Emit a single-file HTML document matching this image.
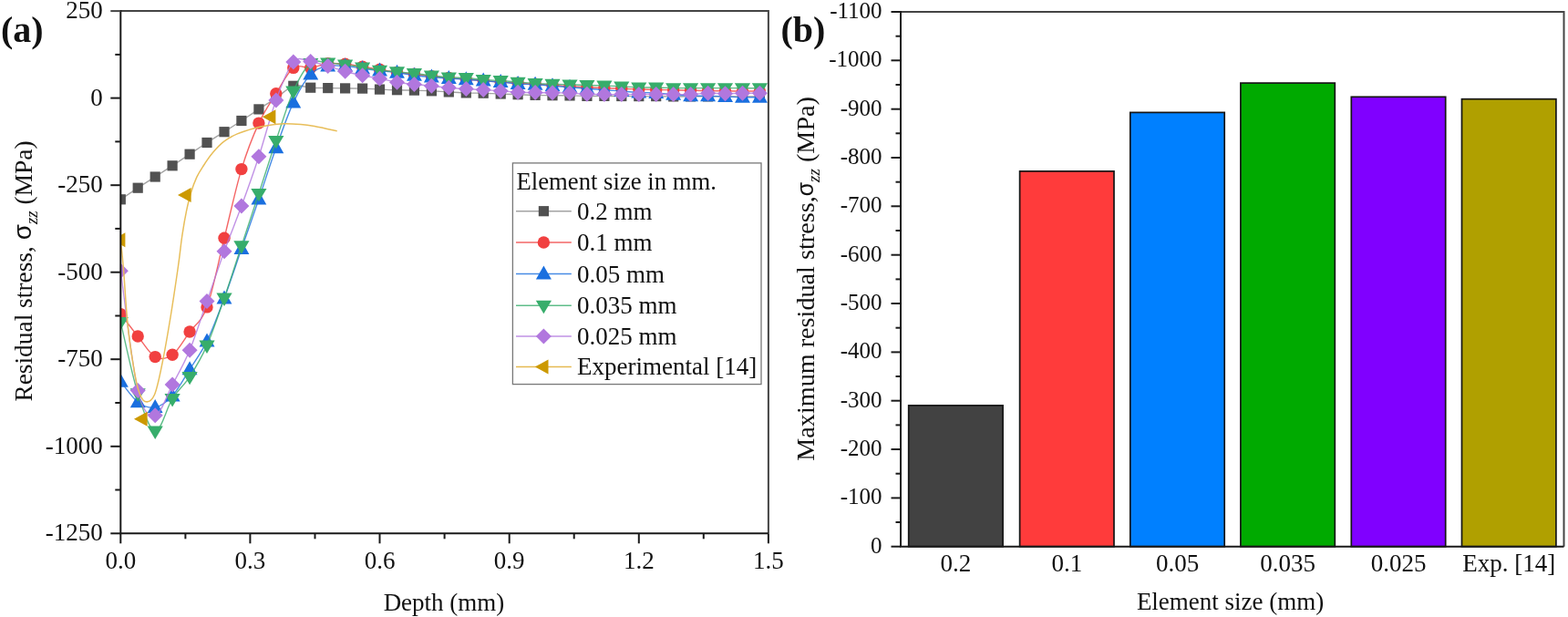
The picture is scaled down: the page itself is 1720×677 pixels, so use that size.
<!DOCTYPE html><html><head><meta charset="utf-8"><title>Residual stress figure</title><style>html,body{margin:0;padding:0;background:#fff;}svg{display:block;}text{font-family:'Liberation Serif','Times New Roman',serif;fill:#111;}</style></head><body>
<svg width="1720" height="677" viewBox="0 0 1720 677">
<rect width="1720" height="677" fill="#fff"/>
<defs><clipPath id="ca"><rect x="132.3" y="12.1" width="710.6" height="573.2"/></clipPath></defs>
<g clip-path="url(#ca)">
<path d="M132.3,218.8 C135.5,216.7 144.9,210.4 151.2,206.2 C157.6,202.1 163.9,198.1 170.2,194.0 C176.5,189.9 182.8,185.9 189.1,181.8 C195.5,177.6 201.8,173.4 208.1,169.2 C214.4,165.0 220.7,160.6 227.0,156.5 C233.4,152.5 239.7,148.7 246.0,144.7 C252.3,140.7 258.6,136.6 264.9,132.5 C271.3,128.3 277.6,124.0 283.9,119.9 C290.2,115.7 296.5,111.9 302.8,107.6 C309.2,103.4 315.5,96.2 321.8,94.3 C328.1,92.3 334.4,95.8 340.7,96.2 C347.1,96.6 353.4,96.4 359.7,96.6 C366.0,96.7 372.3,96.8 378.6,96.9 C385.0,97.0 391.3,96.9 397.6,97.1 C403.9,97.3 410.2,97.8 416.5,98.1 C422.9,98.3 429.2,98.6 435.5,98.7 C441.8,98.9 448.1,99.0 454.4,99.1 C460.8,99.3 467.1,99.5 473.4,99.8 C479.7,100.1 486.0,100.6 492.3,100.9 C498.7,101.3 505.0,101.7 511.3,101.9 C517.6,102.2 523.9,102.1 530.2,102.2 C536.6,102.4 542.9,102.8 549.2,103.0 C555.5,103.3 561.8,103.5 568.1,103.7 C574.5,104.0 580.8,104.3 587.1,104.4 C593.4,104.6 599.7,104.6 606.0,104.7 C612.3,104.8 618.7,104.8 625.0,104.9 C631.3,105.0 637.6,105.3 643.9,105.4 C650.2,105.5 656.6,105.4 662.9,105.4 C669.2,105.4 675.5,105.5 681.8,105.5 C688.1,105.6 694.5,105.6 700.8,105.6 C707.1,105.7 713.4,105.6 719.7,105.6 C726.0,105.7 732.4,105.9 738.7,105.9 C745.0,106.0 751.3,105.9 757.6,105.9 C763.9,105.9 770.3,105.9 776.6,105.9 C782.9,105.9 789.2,105.9 795.5,105.9 C801.8,105.9 808.2,105.9 814.5,105.9 C820.8,105.9 830.3,105.9 833.4,105.9" fill="none" stroke="#8c8c8c" stroke-width="1.4" stroke-opacity="0.8"/>
<rect x="126.7" y="213.2" width="11.2" height="11.2" fill="#515151"/>
<rect x="145.6" y="200.6" width="11.2" height="11.2" fill="#515151"/>
<rect x="164.6" y="188.4" width="11.2" height="11.2" fill="#515151"/>
<rect x="183.5" y="176.2" width="11.2" height="11.2" fill="#515151"/>
<rect x="202.5" y="163.6" width="11.2" height="11.2" fill="#515151"/>
<rect x="221.4" y="150.9" width="11.2" height="11.2" fill="#515151"/>
<rect x="240.4" y="139.1" width="11.2" height="11.2" fill="#515151"/>
<rect x="259.3" y="126.9" width="11.2" height="11.2" fill="#515151"/>
<rect x="278.3" y="114.3" width="11.2" height="11.2" fill="#515151"/>
<rect x="297.2" y="102.0" width="11.2" height="11.2" fill="#515151"/>
<rect x="316.2" y="88.7" width="11.2" height="11.2" fill="#515151"/>
<rect x="335.1" y="90.6" width="11.2" height="11.2" fill="#515151"/>
<rect x="354.1" y="91.0" width="11.2" height="11.2" fill="#515151"/>
<rect x="373.0" y="91.3" width="11.2" height="11.2" fill="#515151"/>
<rect x="392.0" y="91.5" width="11.2" height="11.2" fill="#515151"/>
<rect x="410.9" y="92.5" width="11.2" height="11.2" fill="#515151"/>
<rect x="429.9" y="93.1" width="11.2" height="11.2" fill="#515151"/>
<rect x="448.8" y="93.5" width="11.2" height="11.2" fill="#515151"/>
<rect x="467.8" y="94.2" width="11.2" height="11.2" fill="#515151"/>
<rect x="486.7" y="95.3" width="11.2" height="11.2" fill="#515151"/>
<rect x="505.7" y="96.3" width="11.2" height="11.2" fill="#515151"/>
<rect x="524.6" y="96.6" width="11.2" height="11.2" fill="#515151"/>
<rect x="543.6" y="97.4" width="11.2" height="11.2" fill="#515151"/>
<rect x="562.5" y="98.1" width="11.2" height="11.2" fill="#515151"/>
<rect x="581.5" y="98.8" width="11.2" height="11.2" fill="#515151"/>
<rect x="600.4" y="99.1" width="11.2" height="11.2" fill="#515151"/>
<rect x="619.4" y="99.3" width="11.2" height="11.2" fill="#515151"/>
<rect x="638.3" y="99.8" width="11.2" height="11.2" fill="#515151"/>
<rect x="657.3" y="99.8" width="11.2" height="11.2" fill="#515151"/>
<rect x="676.2" y="99.9" width="11.2" height="11.2" fill="#515151"/>
<rect x="695.2" y="100.0" width="11.2" height="11.2" fill="#515151"/>
<rect x="714.1" y="100.0" width="11.2" height="11.2" fill="#515151"/>
<rect x="733.1" y="100.3" width="11.2" height="11.2" fill="#515151"/>
<rect x="752.0" y="100.3" width="11.2" height="11.2" fill="#515151"/>
<rect x="771.0" y="100.3" width="11.2" height="11.2" fill="#515151"/>
<rect x="789.9" y="100.3" width="11.2" height="11.2" fill="#515151"/>
<rect x="808.9" y="100.3" width="11.2" height="11.2" fill="#515151"/>
<rect x="827.8" y="100.3" width="11.2" height="11.2" fill="#515151"/>
<path d="M132.3,344.6 C135.5,348.6 144.9,361.2 151.2,369.0 C157.6,376.8 163.9,388.2 170.2,391.6 C176.5,394.9 182.8,393.9 189.1,389.3 C195.5,384.7 201.8,372.8 208.1,364.0 C214.4,355.3 220.7,354.0 227.0,336.9 C233.4,319.8 239.7,286.5 246.0,261.3 C252.3,236.0 258.6,206.6 264.9,185.6 C271.3,164.6 277.6,149.0 283.9,135.1 C290.2,121.3 296.5,112.8 302.8,102.7 C309.2,92.5 315.5,79.1 321.8,74.4 C328.1,69.7 334.4,75.2 340.7,74.4 C347.1,73.6 353.4,70.5 359.7,69.8 C366.0,69.1 372.3,69.8 378.6,70.3 C385.0,70.9 391.3,72.2 397.6,73.2 C403.9,74.2 410.2,75.3 416.5,76.3 C422.9,77.3 429.2,78.5 435.5,79.4 C441.8,80.2 448.1,80.6 454.4,81.3 C460.8,82.0 467.1,82.9 473.4,83.6 C479.7,84.3 486.0,84.9 492.3,85.5 C498.7,86.0 505.0,86.5 511.3,87.0 C517.6,87.5 523.9,88.0 530.2,88.5 C536.6,89.0 542.9,89.6 549.2,90.1 C555.5,90.5 561.8,90.8 568.1,91.2 C574.5,91.6 580.8,92.0 587.1,92.3 C593.4,92.7 599.7,93.1 606.0,93.5 C612.3,93.9 618.7,94.3 625.0,94.6 C631.3,95.0 637.6,95.5 643.9,95.8 C650.2,96.1 656.6,96.3 662.9,96.6 C669.2,96.8 675.5,97.1 681.8,97.3 C688.1,97.5 694.5,97.7 700.8,97.9 C707.1,98.1 713.4,98.3 719.7,98.5 C726.0,98.6 732.4,98.7 738.7,98.8 C745.0,99.0 751.3,99.1 757.6,99.2 C763.9,99.4 770.3,99.5 776.6,99.6 C782.9,99.7 789.2,99.7 795.5,99.8 C801.8,99.9 808.2,100.0 814.5,100.0 C820.8,100.0 830.3,100.0 833.4,100.0" fill="none" stroke="#F14040" stroke-width="1.4" stroke-opacity="0.8"/>
<circle cx="132.3" cy="344.6" r="6.7" fill="#F14040"/>
<circle cx="151.2" cy="369.0" r="6.7" fill="#F14040"/>
<circle cx="170.2" cy="391.6" r="6.7" fill="#F14040"/>
<circle cx="189.1" cy="389.3" r="6.7" fill="#F14040"/>
<circle cx="208.1" cy="364.0" r="6.7" fill="#F14040"/>
<circle cx="227.0" cy="336.9" r="6.7" fill="#F14040"/>
<circle cx="246.0" cy="261.3" r="6.7" fill="#F14040"/>
<circle cx="264.9" cy="185.6" r="6.7" fill="#F14040"/>
<circle cx="283.9" cy="135.1" r="6.7" fill="#F14040"/>
<circle cx="302.8" cy="102.7" r="6.7" fill="#F14040"/>
<circle cx="321.8" cy="74.4" r="6.7" fill="#F14040"/>
<circle cx="340.7" cy="74.4" r="6.7" fill="#F14040"/>
<circle cx="359.7" cy="69.8" r="6.7" fill="#F14040"/>
<circle cx="378.6" cy="70.3" r="6.7" fill="#F14040"/>
<circle cx="397.6" cy="73.2" r="6.7" fill="#F14040"/>
<circle cx="416.5" cy="76.3" r="6.7" fill="#F14040"/>
<circle cx="435.5" cy="79.4" r="6.7" fill="#F14040"/>
<circle cx="454.4" cy="81.3" r="6.7" fill="#F14040"/>
<circle cx="473.4" cy="83.6" r="6.7" fill="#F14040"/>
<circle cx="492.3" cy="85.5" r="6.7" fill="#F14040"/>
<circle cx="511.3" cy="87.0" r="6.7" fill="#F14040"/>
<circle cx="530.2" cy="88.5" r="6.7" fill="#F14040"/>
<circle cx="549.2" cy="90.1" r="6.7" fill="#F14040"/>
<circle cx="568.1" cy="91.2" r="6.7" fill="#F14040"/>
<circle cx="587.1" cy="92.3" r="6.7" fill="#F14040"/>
<circle cx="606.0" cy="93.5" r="6.7" fill="#F14040"/>
<circle cx="625.0" cy="94.6" r="6.7" fill="#F14040"/>
<circle cx="643.9" cy="95.8" r="6.7" fill="#F14040"/>
<circle cx="662.9" cy="96.6" r="6.7" fill="#F14040"/>
<circle cx="681.8" cy="97.3" r="6.7" fill="#F14040"/>
<circle cx="700.8" cy="97.9" r="6.7" fill="#F14040"/>
<circle cx="719.7" cy="98.5" r="6.7" fill="#F14040"/>
<circle cx="738.7" cy="98.8" r="6.7" fill="#F14040"/>
<circle cx="757.6" cy="99.2" r="6.7" fill="#F14040"/>
<circle cx="776.6" cy="99.6" r="6.7" fill="#F14040"/>
<circle cx="795.5" cy="99.8" r="6.7" fill="#F14040"/>
<circle cx="814.5" cy="100.0" r="6.7" fill="#F14040"/>
<circle cx="833.4" cy="100.0" r="6.7" fill="#F14040"/>
<path d="M132.3,418.7 C135.5,422.4 144.9,436.5 151.2,441.2 C157.6,445.9 163.9,448.1 170.2,447.0 C176.5,445.8 182.8,441.3 189.1,434.4 C195.5,427.4 201.8,415.3 208.1,405.3 C214.4,395.3 220.7,387.4 227.0,374.4 C233.4,361.4 239.7,344.2 246.0,327.4 C252.3,310.5 258.6,291.2 264.9,273.1 C271.3,254.9 277.6,236.9 283.9,218.5 C290.2,200.0 296.5,179.9 302.8,162.3 C309.2,144.6 315.5,126.0 321.8,112.6 C328.1,99.2 334.4,88.3 340.7,81.6 C347.1,75.0 353.4,74.0 359.7,72.5 C366.0,71.0 372.3,72.2 378.6,72.6 C385.0,73.1 391.3,74.3 397.6,75.2 C403.9,76.0 410.2,76.9 416.5,77.6 C422.9,78.4 429.2,78.9 435.5,79.7 C441.8,80.6 448.1,81.9 454.4,82.7 C460.8,83.5 467.1,83.9 473.4,84.5 C479.7,85.1 486.0,85.7 492.3,86.1 C498.7,86.6 505.0,86.7 511.3,87.2 C517.6,87.6 523.9,88.0 530.2,88.5 C536.6,89.0 542.9,89.5 549.2,90.1 C555.5,90.6 561.8,91.5 568.1,92.0 C574.5,92.4 580.8,92.3 587.1,92.7 C593.4,93.1 599.7,93.7 606.0,94.3 C612.3,94.8 618.7,95.3 625.0,95.8 C631.3,96.3 637.6,96.8 643.9,97.3 C650.2,97.8 656.6,98.4 662.9,98.8 C669.2,99.3 675.5,99.5 681.8,100.0 C688.1,100.4 694.5,101.2 700.8,101.5 C707.1,101.8 713.4,101.5 719.7,101.9 C726.0,102.3 732.4,103.2 738.7,103.7 C745.0,104.3 751.3,105.0 757.6,105.2 C763.9,105.5 770.3,105.1 776.6,105.2 C782.9,105.3 789.2,105.7 795.5,105.9 C801.8,106.2 808.2,106.6 814.5,106.7 C820.8,106.8 830.3,106.7 833.4,106.7" fill="none" stroke="#1A6FDF" stroke-width="1.4" stroke-opacity="0.8"/>
<polygon points="132.3,409.7 140.8,424.7 123.9,424.7" fill="#1A6FDF"/>
<polygon points="151.2,432.2 159.7,447.2 142.8,447.2" fill="#1A6FDF"/>
<polygon points="170.2,438.0 178.6,453.0 161.7,453.0" fill="#1A6FDF"/>
<polygon points="189.1,425.4 197.6,440.4 180.7,440.4" fill="#1A6FDF"/>
<polygon points="208.1,396.3 216.5,411.3 199.6,411.3" fill="#1A6FDF"/>
<polygon points="227.0,365.4 235.5,380.4 218.6,380.4" fill="#1A6FDF"/>
<polygon points="246.0,318.4 254.4,333.4 237.5,333.4" fill="#1A6FDF"/>
<polygon points="264.9,264.1 273.4,279.1 256.5,279.1" fill="#1A6FDF"/>
<polygon points="283.9,209.5 292.3,224.5 275.4,224.5" fill="#1A6FDF"/>
<polygon points="302.8,153.3 311.3,168.3 294.4,168.3" fill="#1A6FDF"/>
<polygon points="321.8,103.6 330.2,118.6 313.3,118.6" fill="#1A6FDF"/>
<polygon points="340.7,72.6 349.2,87.6 332.3,87.6" fill="#1A6FDF"/>
<polygon points="359.7,63.5 368.1,78.5 351.2,78.5" fill="#1A6FDF"/>
<polygon points="378.6,63.6 387.1,78.6 370.2,78.6" fill="#1A6FDF"/>
<polygon points="397.6,66.2 406.0,81.2 389.1,81.2" fill="#1A6FDF"/>
<polygon points="416.5,68.6 425.0,83.6 408.1,83.6" fill="#1A6FDF"/>
<polygon points="435.5,70.7 443.9,85.7 427.0,85.7" fill="#1A6FDF"/>
<polygon points="454.4,73.7 462.9,88.7 446.0,88.7" fill="#1A6FDF"/>
<polygon points="473.4,75.5 481.8,90.5 464.9,90.5" fill="#1A6FDF"/>
<polygon points="492.3,77.1 500.8,92.1 483.9,92.1" fill="#1A6FDF"/>
<polygon points="511.3,78.2 519.7,93.2 502.8,93.2" fill="#1A6FDF"/>
<polygon points="530.2,79.5 538.7,94.5 521.8,94.5" fill="#1A6FDF"/>
<polygon points="549.2,81.1 557.6,96.1 540.7,96.1" fill="#1A6FDF"/>
<polygon points="568.1,83.0 576.6,98.0 559.7,98.0" fill="#1A6FDF"/>
<polygon points="587.1,83.7 595.5,98.7 578.6,98.7" fill="#1A6FDF"/>
<polygon points="606.0,85.3 614.5,100.3 597.6,100.3" fill="#1A6FDF"/>
<polygon points="625.0,86.8 633.4,101.8 616.5,101.8" fill="#1A6FDF"/>
<polygon points="643.9,88.3 652.4,103.3 635.5,103.3" fill="#1A6FDF"/>
<polygon points="662.9,89.8 671.3,104.8 654.4,104.8" fill="#1A6FDF"/>
<polygon points="681.8,91.0 690.3,106.0 673.4,106.0" fill="#1A6FDF"/>
<polygon points="700.8,92.5 709.2,107.5 692.3,107.5" fill="#1A6FDF"/>
<polygon points="719.7,92.9 728.2,107.9 711.3,107.9" fill="#1A6FDF"/>
<polygon points="738.7,94.7 747.1,109.7 730.2,109.7" fill="#1A6FDF"/>
<polygon points="757.6,96.2 766.1,111.2 749.2,111.2" fill="#1A6FDF"/>
<polygon points="776.6,96.2 785.0,111.2 768.1,111.2" fill="#1A6FDF"/>
<polygon points="795.5,96.9 804.0,111.9 787.1,111.9" fill="#1A6FDF"/>
<polygon points="814.5,97.7 822.9,112.7 806.0,112.7" fill="#1A6FDF"/>
<polygon points="833.4,97.7 841.9,112.7 825.0,112.7" fill="#1A6FDF"/>
<path d="M132.3,353.3 C135.5,366.4 144.9,411.7 151.2,431.7 C157.6,451.6 163.9,472.0 170.2,473.0 C176.5,473.9 182.8,447.3 189.1,437.4 C195.5,427.5 201.8,423.1 208.1,413.3 C214.4,403.6 220.7,393.3 227.0,378.9 C233.4,364.6 239.7,345.2 246.0,327.0 C252.3,308.8 258.6,288.8 264.9,269.7 C271.3,250.6 277.6,231.6 283.9,212.3 C290.2,193.1 296.5,173.0 302.8,154.3 C309.2,135.5 315.5,114.1 321.8,100.0 C328.1,85.9 334.4,74.6 340.7,69.4 C347.1,64.3 353.4,68.8 359.7,69.0 C366.0,69.3 372.3,70.1 378.6,70.9 C385.0,71.8 391.3,73.0 397.6,74.0 C403.9,75.0 410.2,76.3 416.5,77.1 C422.9,77.9 429.2,78.2 435.5,78.7 C441.8,79.3 448.1,79.9 454.4,80.5 C460.8,81.2 467.1,82.1 473.4,82.8 C479.7,83.5 486.0,84.4 492.3,84.8 C498.7,85.3 505.0,85.1 511.3,85.5 C517.6,86.0 523.9,86.9 530.2,87.4 C536.6,87.9 542.9,88.1 549.2,88.5 C555.5,89.0 561.8,89.6 568.1,90.1 C574.5,90.5 580.8,91.1 587.1,91.4 C593.4,91.8 599.7,92.0 606.0,92.2 C612.3,92.5 618.7,92.6 625.0,92.8 C631.3,93.1 637.6,93.4 643.9,93.5 C650.2,93.7 656.6,93.7 662.9,93.9 C669.2,94.1 675.5,94.5 681.8,94.8 C688.1,95.2 694.5,95.7 700.8,95.9 C707.1,96.1 713.4,95.9 719.7,96.0 C726.0,96.1 732.4,96.4 738.7,96.6 C745.0,96.7 751.3,96.6 757.6,96.6 C763.9,96.6 770.3,96.6 776.6,96.6 C782.9,96.6 789.2,96.6 795.5,96.6 C801.8,96.6 808.2,96.7 814.5,96.7 C820.8,96.8 830.3,96.7 833.4,96.7" fill="none" stroke="#37AD6B" stroke-width="1.4" stroke-opacity="0.8"/>
<polygon points="132.3,362.3 140.9,347.9 123.7,347.9" fill="#37AD6B"/>
<polygon points="151.2,440.7 159.8,426.3 142.6,426.3" fill="#37AD6B"/>
<polygon points="170.2,482.0 178.8,467.6 161.6,467.6" fill="#37AD6B"/>
<polygon points="189.1,446.4 197.7,432.0 180.5,432.0" fill="#37AD6B"/>
<polygon points="208.1,422.3 216.7,407.9 199.5,407.9" fill="#37AD6B"/>
<polygon points="227.0,387.9 235.6,373.5 218.4,373.5" fill="#37AD6B"/>
<polygon points="246.0,336.0 254.6,321.6 237.4,321.6" fill="#37AD6B"/>
<polygon points="264.9,278.7 273.5,264.3 256.3,264.3" fill="#37AD6B"/>
<polygon points="283.9,221.3 292.5,206.9 275.3,206.9" fill="#37AD6B"/>
<polygon points="302.8,163.3 311.4,148.9 294.2,148.9" fill="#37AD6B"/>
<polygon points="321.8,109.0 330.4,94.6 313.2,94.6" fill="#37AD6B"/>
<polygon points="340.7,78.4 349.3,64.0 332.1,64.0" fill="#37AD6B"/>
<polygon points="359.7,78.0 368.3,63.6 351.1,63.6" fill="#37AD6B"/>
<polygon points="378.6,79.9 387.2,65.5 370.0,65.5" fill="#37AD6B"/>
<polygon points="397.6,83.0 406.2,68.6 389.0,68.6" fill="#37AD6B"/>
<polygon points="416.5,86.1 425.1,71.7 407.9,71.7" fill="#37AD6B"/>
<polygon points="435.5,87.7 444.1,73.3 426.9,73.3" fill="#37AD6B"/>
<polygon points="454.4,89.5 463.0,75.1 445.8,75.1" fill="#37AD6B"/>
<polygon points="473.4,91.8 482.0,77.4 464.8,77.4" fill="#37AD6B"/>
<polygon points="492.3,93.8 500.9,79.4 483.7,79.4" fill="#37AD6B"/>
<polygon points="511.3,94.5 519.9,80.1 502.7,80.1" fill="#37AD6B"/>
<polygon points="530.2,96.4 538.8,82.0 521.6,82.0" fill="#37AD6B"/>
<polygon points="549.2,97.5 557.8,83.1 540.6,83.1" fill="#37AD6B"/>
<polygon points="568.1,99.1 576.7,84.7 559.5,84.7" fill="#37AD6B"/>
<polygon points="587.1,100.4 595.7,86.0 578.5,86.0" fill="#37AD6B"/>
<polygon points="606.0,101.2 614.6,86.8 597.4,86.8" fill="#37AD6B"/>
<polygon points="625.0,101.8 633.6,87.4 616.4,87.4" fill="#37AD6B"/>
<polygon points="643.9,102.5 652.5,88.1 635.3,88.1" fill="#37AD6B"/>
<polygon points="662.9,102.9 671.5,88.5 654.3,88.5" fill="#37AD6B"/>
<polygon points="681.8,103.8 690.4,89.4 673.2,89.4" fill="#37AD6B"/>
<polygon points="700.8,104.9 709.4,90.5 692.2,90.5" fill="#37AD6B"/>
<polygon points="719.7,105.0 728.3,90.6 711.1,90.6" fill="#37AD6B"/>
<polygon points="738.7,105.6 747.3,91.2 730.1,91.2" fill="#37AD6B"/>
<polygon points="757.6,105.6 766.2,91.2 749.0,91.2" fill="#37AD6B"/>
<polygon points="776.6,105.6 785.2,91.2 768.0,91.2" fill="#37AD6B"/>
<polygon points="795.5,105.6 804.1,91.2 786.9,91.2" fill="#37AD6B"/>
<polygon points="814.5,105.7 823.1,91.3 805.9,91.3" fill="#37AD6B"/>
<polygon points="833.4,105.7 842.0,91.3 824.8,91.3" fill="#37AD6B"/>
<path d="M132.3,297.2 C135.5,319.1 144.9,402.2 151.2,428.6 C157.6,455.1 163.9,456.8 170.2,455.8 C176.5,454.7 182.8,434.0 189.1,422.1 C195.5,410.2 201.8,399.6 208.1,384.3 C214.4,369.0 220.7,348.5 227.0,330.4 C233.4,312.3 239.7,293.2 246.0,275.8 C252.3,258.4 258.6,243.4 264.9,226.1 C271.3,208.8 277.6,191.2 283.9,171.8 C290.2,152.5 296.5,127.2 302.8,109.9 C309.2,92.6 315.5,75.0 321.8,67.9 C328.1,60.8 334.4,66.7 340.7,67.5 C347.1,68.3 353.4,70.7 359.7,72.5 C366.0,74.3 372.3,76.5 378.6,78.2 C385.0,79.9 391.3,81.5 397.6,82.8 C403.9,84.1 410.2,85.0 416.5,86.2 C422.9,87.5 429.2,89.3 435.5,90.3 C441.8,91.4 448.1,91.9 454.4,92.5 C460.8,93.2 467.1,93.7 473.4,94.3 C479.7,95.0 486.0,95.7 492.3,96.2 C498.7,96.8 505.0,97.2 511.3,97.5 C517.6,97.9 523.9,98.3 530.2,98.6 C536.6,99.0 542.9,99.3 549.2,99.7 C555.5,100.2 561.8,100.9 568.1,101.3 C574.5,101.6 580.8,101.5 587.1,101.6 C593.4,101.7 599.7,101.7 606.0,101.8 C612.3,101.9 618.7,101.9 625.0,102.1 C631.3,102.4 637.6,103.0 643.9,103.2 C650.2,103.5 656.6,103.6 662.9,103.6 C669.2,103.7 675.5,103.7 681.8,103.6 C688.1,103.6 694.5,103.5 700.8,103.4 C707.1,103.4 713.4,103.4 719.7,103.4 C726.0,103.5 732.4,103.6 738.7,103.6 C745.0,103.6 751.3,103.6 757.6,103.4 C763.9,103.2 770.3,102.4 776.6,102.3 C782.9,102.2 789.2,102.7 795.5,102.7 C801.8,102.7 808.2,102.4 814.5,102.3 C820.8,102.3 830.3,102.3 833.4,102.3" fill="none" stroke="#B177DE" stroke-width="1.4" stroke-opacity="0.8"/>
<polygon points="132.3,288.7 140.8,297.2 132.3,305.7 123.8,297.2" fill="#B177DE"/>
<polygon points="151.2,420.1 159.7,428.6 151.2,437.1 142.7,428.6" fill="#B177DE"/>
<polygon points="170.2,447.3 178.7,455.8 170.2,464.3 161.7,455.8" fill="#B177DE"/>
<polygon points="189.1,413.6 197.6,422.1 189.1,430.6 180.6,422.1" fill="#B177DE"/>
<polygon points="208.1,375.8 216.6,384.3 208.1,392.8 199.6,384.3" fill="#B177DE"/>
<polygon points="227.0,321.9 235.5,330.4 227.0,338.9 218.5,330.4" fill="#B177DE"/>
<polygon points="246.0,267.3 254.5,275.8 246.0,284.3 237.5,275.8" fill="#B177DE"/>
<polygon points="264.9,217.6 273.4,226.1 264.9,234.6 256.4,226.1" fill="#B177DE"/>
<polygon points="283.9,163.3 292.4,171.8 283.9,180.3 275.4,171.8" fill="#B177DE"/>
<polygon points="302.8,101.4 311.3,109.9 302.8,118.4 294.3,109.9" fill="#B177DE"/>
<polygon points="321.8,59.4 330.3,67.9 321.8,76.4 313.3,67.9" fill="#B177DE"/>
<polygon points="340.7,59.0 349.2,67.5 340.7,76.0 332.2,67.5" fill="#B177DE"/>
<polygon points="359.7,64.0 368.2,72.5 359.7,81.0 351.2,72.5" fill="#B177DE"/>
<polygon points="378.6,69.7 387.1,78.2 378.6,86.7 370.1,78.2" fill="#B177DE"/>
<polygon points="397.6,74.3 406.1,82.8 397.6,91.3 389.1,82.8" fill="#B177DE"/>
<polygon points="416.5,77.7 425.0,86.2 416.5,94.7 408.0,86.2" fill="#B177DE"/>
<polygon points="435.5,81.8 444.0,90.3 435.5,98.8 427.0,90.3" fill="#B177DE"/>
<polygon points="454.4,84.0 462.9,92.5 454.4,101.0 445.9,92.5" fill="#B177DE"/>
<polygon points="473.4,85.8 481.9,94.3 473.4,102.8 464.9,94.3" fill="#B177DE"/>
<polygon points="492.3,87.7 500.8,96.2 492.3,104.7 483.8,96.2" fill="#B177DE"/>
<polygon points="511.3,89.0 519.8,97.5 511.3,106.0 502.8,97.5" fill="#B177DE"/>
<polygon points="530.2,90.1 538.7,98.6 530.2,107.1 521.7,98.6" fill="#B177DE"/>
<polygon points="549.2,91.2 557.7,99.7 549.2,108.2 540.7,99.7" fill="#B177DE"/>
<polygon points="568.1,92.8 576.6,101.3 568.1,109.8 559.6,101.3" fill="#B177DE"/>
<polygon points="587.1,93.1 595.6,101.6 587.1,110.1 578.6,101.6" fill="#B177DE"/>
<polygon points="606.0,93.3 614.5,101.8 606.0,110.3 597.5,101.8" fill="#B177DE"/>
<polygon points="625.0,93.6 633.5,102.1 625.0,110.6 616.5,102.1" fill="#B177DE"/>
<polygon points="643.9,94.7 652.4,103.2 643.9,111.7 635.4,103.2" fill="#B177DE"/>
<polygon points="662.9,95.1 671.4,103.6 662.9,112.1 654.4,103.6" fill="#B177DE"/>
<polygon points="681.8,95.1 690.3,103.6 681.8,112.1 673.3,103.6" fill="#B177DE"/>
<polygon points="700.8,94.9 709.3,103.4 700.8,111.9 692.3,103.4" fill="#B177DE"/>
<polygon points="719.7,94.9 728.2,103.4 719.7,111.9 711.2,103.4" fill="#B177DE"/>
<polygon points="738.7,95.1 747.2,103.6 738.7,112.1 730.2,103.6" fill="#B177DE"/>
<polygon points="757.6,94.9 766.1,103.4 757.6,111.9 749.1,103.4" fill="#B177DE"/>
<polygon points="776.6,93.8 785.1,102.3 776.6,110.8 768.1,102.3" fill="#B177DE"/>
<polygon points="795.5,94.2 804.0,102.7 795.5,111.2 787.0,102.7" fill="#B177DE"/>
<polygon points="814.5,93.8 823.0,102.3 814.5,110.8 806.0,102.3" fill="#B177DE"/>
<polygon points="833.4,93.8 841.9,102.3 833.4,110.8 824.9,102.3" fill="#B177DE"/>
<path d="M132.3,263.3 C132.8,268.5 134.2,279.3 135.4,294.3 C136.7,309.3 138.1,336.2 139.8,353.4 C141.5,370.6 143.7,385.4 145.7,397.7 C147.7,410.0 149.4,420.1 151.6,427.2 C153.8,434.3 156.0,439.5 159.0,440.5 C162.0,441.5 166.2,440.3 169.4,433.2 C172.6,426.1 175.2,412.0 178.2,397.7 C181.1,383.4 184.2,365.1 187.1,347.5 C190.0,329.9 193.4,306.6 195.5,292.0 C197.6,277.4 198.1,270.1 199.6,260.0 C201.1,249.9 202.8,239.9 204.5,231.7 C206.2,223.5 207.7,217.2 209.6,211.0 C211.5,204.8 213.6,199.2 215.8,194.4 C218.1,189.6 220.2,186.5 223.1,182.0 C226.0,177.5 229.6,172.1 233.4,167.6 C237.2,163.1 241.3,158.6 245.8,155.2 C250.3,151.8 254.8,149.3 260.3,146.9 C265.8,144.5 273.1,142.3 278.9,140.7 C284.7,139.1 289.6,138.3 295.0,137.5 C300.4,136.7 305.4,136.0 311.2,135.8 C317.0,135.6 324.4,136.1 330.0,136.5 C335.6,136.9 338.4,137.3 345.0,138.5 C351.6,139.7 365.6,142.9 369.7,143.8" fill="none" stroke="#E8BE5A" stroke-width="1.5"/>
<polygon points="122.8,263.3 137.4,255.3 137.4,271.3" fill="#CC9900"/>
<polygon points="147.0,459.8 161.6,451.8 161.6,467.8" fill="#CC9900"/>
<polygon points="195.0,214.1 209.6,206.1 209.6,222.1" fill="#CC9900"/>
<polygon points="287.8,128.2 302.4,120.2 302.4,136.2" fill="#CC9900"/>
</g>
<path d="M132.3,12.1 H842.9 V585.3" fill="none" stroke="#444" stroke-width="2"/>
<path d="M132.3,11.1 V585.3 H842.9" fill="none" stroke="#1a1a1a" stroke-width="2"/>
<line x1="121.3" y1="12.1" x2="132.3" y2="12.1" stroke="#444" stroke-width="2"/>
<line x1="126.3" y1="59.9" x2="132.3" y2="59.9" stroke="#1a1a1a" stroke-width="2"/>
<line x1="121.3" y1="107.6" x2="132.3" y2="107.6" stroke="#1a1a1a" stroke-width="2"/>
<line x1="126.3" y1="155.4" x2="132.3" y2="155.4" stroke="#1a1a1a" stroke-width="2"/>
<line x1="121.3" y1="203.2" x2="132.3" y2="203.2" stroke="#1a1a1a" stroke-width="2"/>
<line x1="126.3" y1="250.9" x2="132.3" y2="250.9" stroke="#1a1a1a" stroke-width="2"/>
<line x1="121.3" y1="298.7" x2="132.3" y2="298.7" stroke="#1a1a1a" stroke-width="2"/>
<line x1="126.3" y1="346.5" x2="132.3" y2="346.5" stroke="#1a1a1a" stroke-width="2"/>
<line x1="121.3" y1="394.2" x2="132.3" y2="394.2" stroke="#1a1a1a" stroke-width="2"/>
<line x1="126.3" y1="442.0" x2="132.3" y2="442.0" stroke="#1a1a1a" stroke-width="2"/>
<line x1="121.3" y1="489.8" x2="132.3" y2="489.8" stroke="#1a1a1a" stroke-width="2"/>
<line x1="126.3" y1="537.5" x2="132.3" y2="537.5" stroke="#1a1a1a" stroke-width="2"/>
<line x1="121.3" y1="585.3" x2="132.3" y2="585.3" stroke="#1a1a1a" stroke-width="2"/>
<line x1="132.3" y1="585.3" x2="132.3" y2="596.3" stroke="#1a1a1a" stroke-width="2"/>
<line x1="203.4" y1="585.3" x2="203.4" y2="591.3" stroke="#1a1a1a" stroke-width="2"/>
<line x1="274.4" y1="585.3" x2="274.4" y2="596.3" stroke="#1a1a1a" stroke-width="2"/>
<line x1="345.5" y1="585.3" x2="345.5" y2="591.3" stroke="#1a1a1a" stroke-width="2"/>
<line x1="416.5" y1="585.3" x2="416.5" y2="596.3" stroke="#1a1a1a" stroke-width="2"/>
<line x1="487.6" y1="585.3" x2="487.6" y2="591.3" stroke="#1a1a1a" stroke-width="2"/>
<line x1="558.7" y1="585.3" x2="558.7" y2="596.3" stroke="#1a1a1a" stroke-width="2"/>
<line x1="629.7" y1="585.3" x2="629.7" y2="591.3" stroke="#1a1a1a" stroke-width="2"/>
<line x1="700.8" y1="585.3" x2="700.8" y2="596.3" stroke="#1a1a1a" stroke-width="2"/>
<line x1="771.8" y1="585.3" x2="771.8" y2="591.3" stroke="#1a1a1a" stroke-width="2"/>
<line x1="842.9" y1="585.3" x2="842.9" y2="596.3" stroke="#1a1a1a" stroke-width="2"/>
<text x="112.8" y="20.1" font-size="27" text-anchor="end">250</text>
<text x="112.8" y="115.6" font-size="27" text-anchor="end">0</text>
<text x="112.8" y="211.2" font-size="27" text-anchor="end">-250</text>
<text x="112.8" y="306.7" font-size="27" text-anchor="end">-500</text>
<text x="112.8" y="402.2" font-size="27" text-anchor="end">-750</text>
<text x="112.8" y="497.8" font-size="27" text-anchor="end">-1000</text>
<text x="112.8" y="593.3" font-size="27" text-anchor="end">-1250</text>
<text x="132.3" y="624.4" font-size="27" text-anchor="middle">0.0</text>
<text x="274.4" y="624.4" font-size="27" text-anchor="middle">0.3</text>
<text x="416.5" y="624.4" font-size="27" text-anchor="middle">0.6</text>
<text x="558.7" y="624.4" font-size="27" text-anchor="middle">0.9</text>
<text x="700.8" y="624.4" font-size="27" text-anchor="middle">1.2</text>
<text x="842.9" y="624.4" font-size="27" text-anchor="middle">1.5</text>
<text x="487" y="669.8" font-size="27" text-anchor="middle">Depth (mm)</text>
<text transform="translate(35.2,297.5) rotate(-90)" font-size="27.4" text-anchor="middle">Residual stress, <tspan font-family="Liberation Sans, sans-serif" font-size="28" dy="-1">σ</tspan><tspan font-size="19" dy="7" font-style="italic">zz</tspan><tspan dy="-6"> (MPa)</tspan></text>
<text x="1" y="46" font-size="40" font-weight="bold">(a)</text>
<rect x="562.4" y="178.9" width="272.6" height="242.7" fill="#fff" stroke="#777" stroke-width="1.3"/>
<text x="566.5" y="207.8" font-size="26.7">Element size in mm.</text>
<line x1="566" y1="231.7" x2="626.8" y2="231.7" stroke="#8c8c8c" stroke-opacity="0.8" stroke-width="1.5"/>
<rect x="590.8" y="226.1" width="11.2" height="11.2" fill="#515151"/>
<text x="633" y="240.7" font-size="27">0.2 mm</text>
<line x1="566" y1="266.0" x2="626.8" y2="266.0" stroke="#F14040" stroke-opacity="0.8" stroke-width="1.5"/>
<circle cx="596.4" cy="266.0" r="6.7" fill="#F14040"/>
<text x="633" y="275.0" font-size="27">0.1 mm</text>
<line x1="566" y1="300.6" x2="626.8" y2="300.6" stroke="#1A6FDF" stroke-opacity="0.8" stroke-width="1.5"/>
<polygon points="596.4,291.6 604.9,306.6 587.9,306.6" fill="#1A6FDF"/>
<text x="633" y="309.6" font-size="27">0.05 mm</text>
<line x1="566" y1="335.2" x2="626.8" y2="335.2" stroke="#37AD6B" stroke-opacity="0.8" stroke-width="1.5"/>
<polygon points="596.4,344.2 605.0,329.8 587.8,329.8" fill="#37AD6B"/>
<text x="633" y="344.2" font-size="27">0.035 mm</text>
<line x1="566" y1="369.0" x2="626.8" y2="369.0" stroke="#B177DE" stroke-opacity="0.8" stroke-width="1.5"/>
<polygon points="596.4,360.5 604.9,369.0 596.4,377.5 587.9,369.0" fill="#B177DE"/>
<text x="633" y="378.0" font-size="27">0.025 mm</text>
<line x1="566" y1="402.4" x2="626.8" y2="402.4" stroke="#E6BA52" stroke-opacity="1" stroke-width="1.5"/>
<polygon points="586.9,402.4 601.5,394.4 601.5,410.4" fill="#CC9900"/>
<text x="633" y="411.4" font-size="27">Experimental [14]</text>
<rect x="996.7" y="444.9" width="103.4" height="154.8" fill="#424242" stroke="#151515" stroke-width="1.7"/>
<text x="1048.4" y="626.5" font-size="27" text-anchor="middle">0.2</text>
<rect x="1118.6" y="187.9" width="103.4" height="411.8" fill="#FF3B3B" stroke="#151515" stroke-width="1.7"/>
<text x="1170.3" y="626.5" font-size="27" text-anchor="middle">0.1</text>
<rect x="1239.8" y="123.4" width="103.4" height="476.3" fill="#0080FF" stroke="#151515" stroke-width="1.7"/>
<text x="1291.5" y="626.5" font-size="27" text-anchor="middle">0.05</text>
<rect x="1360.9" y="91.1" width="103.4" height="508.6" fill="#00AA00" stroke="#151515" stroke-width="1.7"/>
<text x="1412.6" y="626.5" font-size="27" text-anchor="middle">0.035</text>
<rect x="1482.3" y="106.3" width="103.4" height="493.4" fill="#8000FF" stroke="#151515" stroke-width="1.7"/>
<text x="1534.0" y="626.5" font-size="27" text-anchor="middle">0.025</text>
<rect x="1603.5" y="108.7" width="103.4" height="491.0" fill="#B0A000" stroke="#151515" stroke-width="1.7"/>
<text x="1655.2" y="626.5" font-size="27" text-anchor="middle">Exp. [14]</text>
<path d="M988.0,13.0 H1715.5 V599.7" fill="none" stroke="#444" stroke-width="2"/>
<path d="M988.0,12.0 V599.7 H1715.5" fill="none" stroke="#1a1a1a" stroke-width="2"/>
<line x1="977.5" y1="599.7" x2="988.0" y2="599.7" stroke="#1a1a1a" stroke-width="2"/>
<text x="967.6" y="606.5" font-size="25" text-anchor="end">0</text>
<line x1="982.5" y1="573.0" x2="988.0" y2="573.0" stroke="#1a1a1a" stroke-width="2"/>
<line x1="977.5" y1="546.4" x2="988.0" y2="546.4" stroke="#1a1a1a" stroke-width="2"/>
<text x="967.6" y="553.2" font-size="25" text-anchor="end">-100</text>
<line x1="982.5" y1="519.7" x2="988.0" y2="519.7" stroke="#1a1a1a" stroke-width="2"/>
<line x1="977.5" y1="493.0" x2="988.0" y2="493.0" stroke="#1a1a1a" stroke-width="2"/>
<text x="967.6" y="499.8" font-size="25" text-anchor="end">-200</text>
<line x1="982.5" y1="466.4" x2="988.0" y2="466.4" stroke="#1a1a1a" stroke-width="2"/>
<line x1="977.5" y1="439.7" x2="988.0" y2="439.7" stroke="#1a1a1a" stroke-width="2"/>
<text x="967.6" y="446.5" font-size="25" text-anchor="end">-300</text>
<line x1="982.5" y1="413.0" x2="988.0" y2="413.0" stroke="#1a1a1a" stroke-width="2"/>
<line x1="977.5" y1="386.4" x2="988.0" y2="386.4" stroke="#1a1a1a" stroke-width="2"/>
<text x="967.6" y="393.2" font-size="25" text-anchor="end">-400</text>
<line x1="982.5" y1="359.7" x2="988.0" y2="359.7" stroke="#1a1a1a" stroke-width="2"/>
<line x1="977.5" y1="333.0" x2="988.0" y2="333.0" stroke="#1a1a1a" stroke-width="2"/>
<text x="967.6" y="339.8" font-size="25" text-anchor="end">-500</text>
<line x1="982.5" y1="306.4" x2="988.0" y2="306.4" stroke="#1a1a1a" stroke-width="2"/>
<line x1="977.5" y1="279.7" x2="988.0" y2="279.7" stroke="#1a1a1a" stroke-width="2"/>
<text x="967.6" y="286.5" font-size="25" text-anchor="end">-600</text>
<line x1="982.5" y1="253.0" x2="988.0" y2="253.0" stroke="#1a1a1a" stroke-width="2"/>
<line x1="977.5" y1="226.3" x2="988.0" y2="226.3" stroke="#1a1a1a" stroke-width="2"/>
<text x="967.6" y="233.1" font-size="25" text-anchor="end">-700</text>
<line x1="982.5" y1="199.7" x2="988.0" y2="199.7" stroke="#1a1a1a" stroke-width="2"/>
<line x1="977.5" y1="173.0" x2="988.0" y2="173.0" stroke="#1a1a1a" stroke-width="2"/>
<text x="967.6" y="179.8" font-size="25" text-anchor="end">-800</text>
<line x1="982.5" y1="146.3" x2="988.0" y2="146.3" stroke="#1a1a1a" stroke-width="2"/>
<line x1="977.5" y1="119.7" x2="988.0" y2="119.7" stroke="#1a1a1a" stroke-width="2"/>
<text x="967.6" y="126.5" font-size="25" text-anchor="end">-900</text>
<line x1="982.5" y1="93.0" x2="988.0" y2="93.0" stroke="#1a1a1a" stroke-width="2"/>
<line x1="977.5" y1="66.3" x2="988.0" y2="66.3" stroke="#1a1a1a" stroke-width="2"/>
<text x="967.6" y="73.1" font-size="25" text-anchor="end">-1000</text>
<line x1="982.5" y1="39.7" x2="988.0" y2="39.7" stroke="#1a1a1a" stroke-width="2"/>
<line x1="977.5" y1="13.0" x2="988.0" y2="13.0" stroke="#1a1a1a" stroke-width="2"/>
<text x="967.6" y="19.8" font-size="25" text-anchor="end">-1100</text>
<text x="1349.6" y="669.1" font-size="27" text-anchor="middle">Element size (mm)</text>
<text transform="translate(893,305.9) rotate(-90)" font-size="28.2" text-anchor="middle">Maximum residual stress,<tspan font-family="Liberation Sans, sans-serif" font-size="25" dy="-1">σ</tspan><tspan font-size="19" dy="7" font-style="italic">zz</tspan><tspan dy="-6"> (MPa)</tspan></text>
<text x="856.4" y="46" font-size="40" font-weight="bold">(b)</text>
</svg></body></html>
